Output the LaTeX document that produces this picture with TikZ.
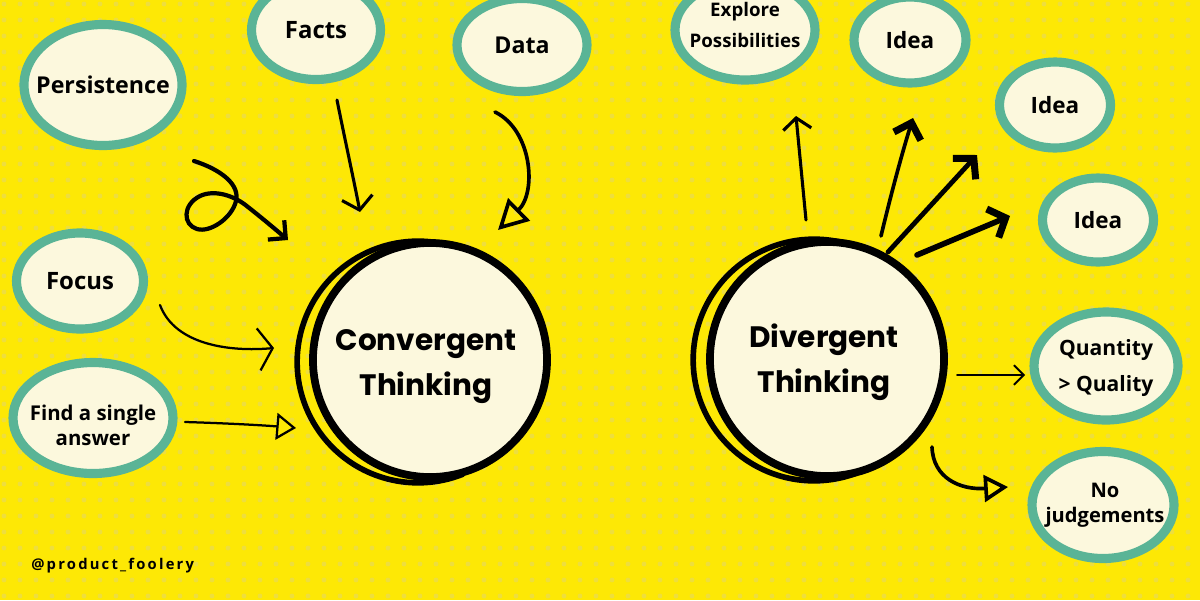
\documentclass[tikz,border=0pt]{standalone}
\usepackage{fontspec}
\usetikzlibrary{arrows.meta,shapes.geometric,calc}
\newfontfamily\bubfont{Open Sans}
\newfontfamily\popfont{Poppins}
\newfontfamily\handfont{Open Sans}[LetterSpace=15]
\definecolor{bgy}{RGB}{253,232,5}
\definecolor{dotc}{RGB}{238,222,62}
\definecolor{cream}{RGB}{252,248,221}
\definecolor{tealb}{RGB}{90,180,150}
\begin{document}
\begin{tikzpicture}[x=0.025cm,y=-0.025cm,
  bub/.style 2 args={ellipse, draw=tealb, fill=cream, line width=6.5pt,
    minimum width=#1*0.025cm, minimum height=#2*0.025cm, inner sep=0pt},
  btext/.style={font=\bubfont\bfseries, align=center, text=black, inner sep=0pt},
  bigc/.style={circle, draw=black, fill=cream, line width=5.5pt, minimum size=5.85cm,
    inner sep=0pt},
  ctext/.style={font=\popfont\bfseries\fontsize{21}{32}\selectfont, align=center, inner sep=0pt},
  ink/.style={draw=black, line width=4pt},
  pen/.style={draw=black, line width=2.2pt, line cap=round},
]
\fill[bgy] (0,0) rectangle (1200,600);
\useasboundingbox (0,0) rectangle (1200,600);
\foreach \i in {0,...,75}{\foreach \j in {0,...,37}{\fill[dotc] (\i*16+4,\j*16+4) circle[radius=1.7pt];}}

% bubbles
\node[bub={158}{121}] (pers) at (103,85) {};
\node[btext, font=\bubfont\bfseries\fontsize{16.5}{20}\selectfont] (pers-t) at (pers) {Persistence};
\node[bub={129}{99}] (facts) at (316,30) {};
\node[btext, font=\bubfont\bfseries\fontsize{17}{20}\selectfont] (facts-t) at (facts) {Facts};
\node[bub={130}{93}] (data) at (522,45) {};
\node[btext, font=\bubfont\bfseries\fontsize{16.5}{20}\selectfont] (data-t) at (data) {Data};
\node[bub={127}{96}] (focus) at (80,281) {};
\node[btext, font=\bubfont\bfseries\fontsize{17}{20}\selectfont] (focus-t) at (focus) {Focus};
\node[bub={160}{111}] (find) at (93,418) {};
\node[btext, font=\bubfont\bfseries\fontsize{14.5}{17.7}\selectfont] (find-t) at ($(find)+(0,7)$) {Find a single\\answer};

\node[bub={140}{100}] (expl) at (745,30) {};
\node[btext, font=\bubfont\bfseries\fontsize{13.3}{22}\selectfont] (expl-t) at ($(expl)+(0,-5)$) {Explore\\Possibilities};
\node[bub={112}{86}] (idea1) at (910,40) {};
\node[btext, font=\bubfont\bfseries\fontsize{16}{20}\selectfont] (idea1-t) at (idea1) {Idea};
\node[bub={111}{86}] (idea2) at (1055,105) {};
\node[btext, font=\bubfont\bfseries\fontsize{16}{20}\selectfont] (idea2-t) at (idea2) {Idea};
\node[bub={111}{84}] (idea3) at (1098,220) {};
\node[btext, font=\bubfont\bfseries\fontsize{16}{20}\selectfont] (idea3-t) at (idea3) {Idea};
\node[bub={144}{108}] (quant) at (1106,366) {};
\node[btext, font=\bubfont\bfseries\fontsize{15}{26}\selectfont] (quant-t) at ($(quant)+(0,2)$) {Quantity\\> Quality};
\node[bub={142}{107}] (nojud) at (1103,505) {};
\node[btext, font=\bubfont\bfseries\fontsize{14.3}{17.7}\selectfont] (nojud-t) at ($(nojud)+(2,0)$) {No\\judgements};

% big circles
\coordinate (convc) at (430,360);
\draw[ink] ($(convc)+(-12,2)$) ++(75:3.02cm) arc[start angle=75,end angle=292,radius=3.02cm];
\node[bigc] (conv) at (convc) {};
\node[ctext] (conv-t) at ($(convc)+(-4,7)$) {Convergent\\Thinking};
\coordinate (divc) at (827,359);
\draw[ink] ($(divc)+(-13,1)$) ++(62:3.02cm) arc[start angle=62,end angle=290,radius=3.02cm];
\node[bigc] (div) at (divc) {};
\node[ctext] (div-t) at ($(divc)+(-3,3)$) {Divergent\\Thinking};

% convergent arrows
\coordinate (a1s) at (194,161); \coordinate (a1e) at (288,240);
\draw[pen, line width=3pt, -{Straight Barb[length=9pt,width=18pt]}] (a1s) .. controls (222,170) and (240,185) .. (236,201)
  .. controls (232,218) and (210,233) .. (197,229) .. controls (183,225) and (182,205) .. (200,196)
  .. controls (215,189) and (235,196) .. (248,207) .. controls (262,218) and (275,229) .. (a1e);
\coordinate (a2s) at (337,100); \coordinate (a2e) at (360,212);
\draw[pen, -{Straight Barb[length=9pt,width=22pt]}] (a2s) .. controls (345,140) and (353,176) .. (a2e);
\coordinate (a3s) at (495,112); \coordinate (a3e) at (498,230);
\draw[pen, line width=2.6pt, -{Triangle[open,length=21pt,width=22pt]}] (a3s) .. controls (532,130) and (537,192) .. (a3e);
\coordinate (a4s) at (160,305); \coordinate (a4e) at (274,348);
\draw[pen, line width=1.6pt, -{Straight Barb[length=10pt,width=30pt]}] (a4s) .. controls (175,345) and (230,352) .. (a4e);
\coordinate (a5s) at (185,422); \coordinate (a5e) at (296,428);
\draw[pen, line width=1.6pt, -{Triangle[open,length=14pt,width=19pt]}] (a5s) .. controls (220,423) and (260,425) .. (a5e);

% divergent arrows
\coordinate (b1s) at (806,220); \coordinate (b1e) at (796,116);
\draw[pen, line width=2.2pt, -{Straight Barb[length=8pt,width=20pt]}] (b1s) -- (b1e);
\coordinate (b2s) at (881,236); \coordinate (b2e) at (913,118);
\draw[pen, line width=2.6pt, -{Straight Barb[length=10pt,width=20pt,line width=5pt]}] (b2s) .. controls (892,190) and (903,150) .. (b2e);
\coordinate (b3s) at (888,252); \coordinate (b3e) at (977,155);
\draw[pen, line width=3.4pt, -{Straight Barb[length=10pt,width=22pt,line width=5pt]}] (b3s) -- (b3e);
\coordinate (b4s) at (917,255); \coordinate (b4e) at (1010,216);
\draw[pen, line width=4pt, -{Straight Barb[length=10pt,width=22pt,line width=5pt]}] (b4s) -- (b4e);
\coordinate (b5s) at (957,375); \coordinate (b5e) at (1025,375);
\draw[pen, line width=1.3pt, -{Straight Barb[length=7pt,width=14pt]}] (b5s) -- (b5e);
\coordinate (b6s) at (932,447); \coordinate (b6e) at (1008,487);
\draw[pen, line width=2.6pt, -{Triangle[open,length=17pt,width=19pt]}] (b6s) .. controls (933,478) and (960,490) .. (b6e);

\node[anchor=west, inner sep=0pt, font=\handfont\bfseries\fontsize{10.5}{12}\selectfont] (handle) at (31,566) {@product\_foolery};
\end{tikzpicture}
\end{document}
